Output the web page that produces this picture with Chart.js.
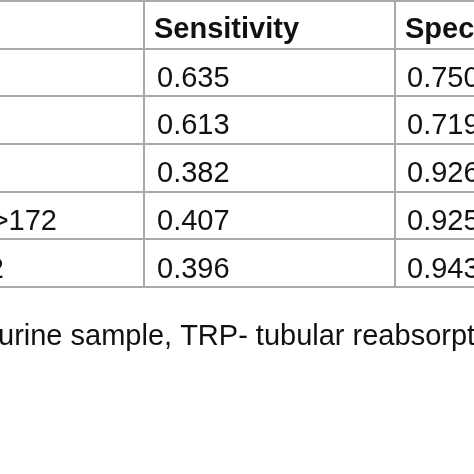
<!DOCTYPE html>
<html><head><meta charset="utf-8">
<script src="https://cdn.jsdelivr.net/npm/chart.js@4"></script>
<style>html,body{margin:0;padding:0;background:#fff}canvas{display:block}</style>
</head><body><canvas id="c" width="474" height="474"></canvas>
<script>
const columns = ["", "Sensitivity", "Specificity"];
const rowLabels = ["", "", "", "TmP/GFR>172", "TmP/GFR≤172"];
const sensitivity = [0.635, 0.613, 0.382, 0.407, 0.396];
const specificity = [0.750, 0.719, 0.926, 0.925, 0.943];
const footnote = "urine sample, TRP- tubular reabsorption of phosphate";

const tablePlugin = {
  id: 'table',
  afterDraw(chart) {
    const ctx = chart.ctx, xs = chart.scales.x, ys = chart.scales.y;
    const nRows = sensitivity.length + 1;
    const colEdges = [-3, 0, 1, 2];
    ctx.save();
    ctx.strokeStyle = '#a9a9a9'; ctx.lineWidth = 2;
    for (let r = 0; r <= nRows; r++) {
      const y = Math.round(ys.getPixelForValue(r));
      ctx.beginPath(); ctx.moveTo(0, y); ctx.lineTo(474, y); ctx.stroke();
    }
    for (let c = 1; c < colEdges.length; c++) {
      const x = Math.round(xs.getPixelForValue(colEdges[c]));
      ctx.beginPath(); ctx.moveTo(x, ys.getPixelForValue(0)); ctx.lineTo(x, ys.getPixelForValue(nRows)); ctx.stroke();
    }
    ctx.fillStyle = '#111'; ctx.textBaseline = 'alphabetic';
    ctx.font = 'bold 29px "Liberation Sans", Arial, sans-serif';
    ctx.textAlign = 'left';
    for (let c = 1; c < columns.length; c++) {
      ctx.fillText(columns[c], xs.getPixelForValue(colEdges[c]) + 10, ys.getPixelForValue(0.78));
    }
    ctx.font = '29px "Liberation Sans", Arial, sans-serif';
    for (let i = 0; i < sensitivity.length; i++) {
      const y = ys.getPixelForValue(i + 1.8);
      ctx.textAlign = 'left';
      ctx.fillText(sensitivity[i].toFixed(3), xs.getPixelForValue(0) + 13, y);
      ctx.fillText(specificity[i].toFixed(3), xs.getPixelForValue(1) + 12, y);
      if (rowLabels[i]) {
        ctx.textAlign = 'right';
        const endX = i === 3 ? 57 : 4;
        ctx.fillText(rowLabels[i], endX, y);
      }
    }
    ctx.textAlign = 'left';
    ctx.fillText(footnote, -2, ys.getPixelForValue(7.22));
    ctx.restore();
  }
};

new Chart(document.getElementById('c'), {
  type: 'scatter',
  data: { datasets: [{ data: [], showLine: false }] },
  options: {
    responsive: false, animation: false, devicePixelRatio: 1,
    layout: { padding: 0 },
    plugins: { legend: { display: false }, tooltip: { enabled: false } },
    scales: {
      x: { type: 'linear', display: false, min: -0.5737, max: 1.3147 },
      y: { type: 'linear', display: false, reverse: true, min: -0.02, max: 9.92 }
    }
  },
  plugins: [tablePlugin]
});
</script></body></html>
